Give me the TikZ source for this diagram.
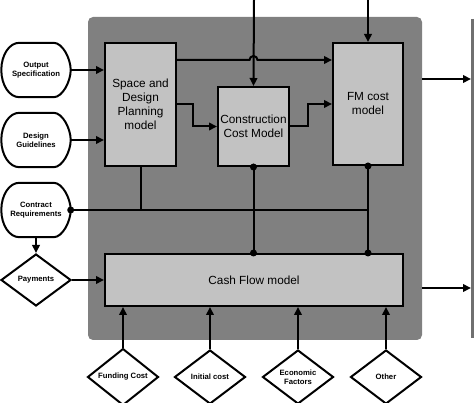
\documentclass[tikz,border=0pt]{standalone}
\usepackage{fontspec}
\setmainfont{Liberation Sans}
\usetikzlibrary{shapes.geometric,arrows.meta,calc,backgrounds}
\definecolor{bggray}{RGB}{128,128,128}
\definecolor{boxgray}{RGB}{194,194,194}
\definecolor{bargray}{RGB}{112,112,112}
\newcommand\myDisplayOutline[1]{%
  \draw[line width=2pt,line join=round,fill=white]
    ([xshift=18pt]#1.north west) -- ([xshift=-17pt]#1.north east)
    .. controls ([xshift=-8pt]#1.north east) and ([yshift=11pt]#1.east) .. (#1.east)
    .. controls ([yshift=-11pt]#1.east) and ([xshift=-8pt]#1.south east) .. ([xshift=-17pt]#1.south east)
    -- ([xshift=18pt]#1.south west)
    .. controls ([xshift=8pt]#1.south west) and ([yshift=-15pt]#1.west) .. (#1.west)
    .. controls ([yshift=15pt]#1.west) and ([xshift=8pt]#1.north west) .. cycle;}
\begin{document}
\begin{tikzpicture}[x=1pt,y=-1pt,
  ln/.style={line width=2pt},
  arr/.style={line width=2pt,-{Triangle[length=8pt,width=7.5pt]}},
  model/.style={draw,line width=2pt,fill=boxgray,inner sep=0pt,align=center,font=\fontsize{11.8}{14}\selectfont},
  lbl/.style={font=\fontsize{7.7}{9}\selectfont\bfseries,align=center},
  dia/.style={diamond,draw,line width=2pt,fill=white,inner sep=0pt,minimum width=71pt,minimum height=54pt,lbl},
  disp/.style={inner sep=0pt,minimum width=69pt,minimum height=54pt,lbl},
  dot/.style={circle,fill,inner sep=0pt,minimum size=7pt}]
\useasboundingbox (0,0) rectangle (474,403);
\node[fill=bggray,rounded corners=5pt,minimum width=334pt,minimum height=323pt,inner sep=0pt] (bg) at (255,178.5) {};
% right bar
\coordinate (rbtop) at (472.5,19);
\coordinate (rbbot) at (472.5,338);
\draw[bargray,line width=3pt] (rbtop) -- (rbbot);
% model boxes
\node[model,minimum width=71pt,minimum height=123pt] (sp) at (140.5,104.5) {Space and\\Design\\Planning\\model};
\node[model,minimum width=71pt,minimum height=79pt] (cc) at (253.5,126.5) {Construction\\Cost Model};
\node[model,minimum width=70pt,minimum height=122pt] (fm) at (368,104) {FM cost\\model};
\node[model,minimum width=298pt,minimum height=52pt] (cf) at (254,280) {Cash Flow model};
% display shapes
\node[disp] (os) at (36,70) {Output\\Specification};
\node[disp] (dg) at (36,140) {Design\\Guidelines};
\node[disp] (cr) at (36,210) {Contract\\Requirements};
\begin{pgfonlayer}{background}
\myDisplayOutline{os}
\myDisplayOutline{dg}
\myDisplayOutline{cr}
\end{pgfonlayer}
% diamonds
\node[dia,minimum width=70pt,minimum height=52pt] (pay) at (36,280) {Payments};
\node[dia] (fc) at (123,377) {Funding Cost};
\node[dia] (ic) at (210,377) {Initial cost};
\node[dia] (ef) at (298,377) {Economic\\Factors};
\node[dia] (ot) at (386,377) {Other};
% free ends
\coordinate (t1) at (254,0);
\coordinate (t2) at (368,0);
\coordinate (r1) at (471,79);
\coordinate (r2) at (471,288);
\coordinate (h) at ($(sp.north east)+(0,18)$);
% connectors
\draw[arr] (os.east) -- (os.east -| sp.west);
\draw[arr] (dg.east) -- (dg.east -| sp.west);
\draw[arr] (pay.east) -- (pay.east -| cf.west);
\draw[arr] (cr.south) -- (pay.north);
\draw[arr] (t1) -- (cc.north);
\draw[arr] (t2) -- (fm.north);
\draw[arr] (sp.east) -- ++(16,0) |- (cc.west);
\draw[arr] (cc.east) -- ++(18,0) |- (fm.west);
\draw[arr] (h) -- ($(h -| cc.north)+(-4,0)$) arc[start angle=180,end angle=0,radius=4pt] -- (h -| fm.west);
% bus
\draw[ln] (sp.south) -- (sp.south |- cr.east);
\draw[ln] (cr.east) -- (cr.east -| fm.south);
\draw[ln] (cc.south) -- (cc.south |- cf.north);
\draw[ln] (fm.south) -- (fm.south |- cf.north);
\node[dot] (d1) at (cr.east) {};
\node[dot] (d2) at (cc.south) {};
\node[dot] (d3) at (fm.south) {};
\node[dot] (d4) at (cc.south |- cf.north) {};
\node[dot] (d5) at (fm.south |- cf.north) {};
% bottom inputs
\draw[arr] (fc.north) -- (fc.north |- cf.south);
\draw[arr] (ic.north) -- (ic.north |- cf.south);
\draw[arr] (ef.north) -- (ef.north |- cf.south);
\draw[arr] (ot.north) -- (ot.north |- cf.south);
% outputs
\draw[arr] (bg.east |- r1) -- (r1);
\draw[arr] (bg.east |- r2) -- (r2);
\end{tikzpicture}
\end{document}
